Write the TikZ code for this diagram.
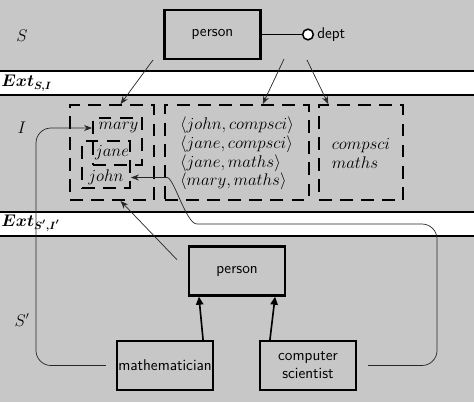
\documentclass[tikz,border=0pt]{standalone}
\usepackage{bm}
\usetikzlibrary{fit,arrows.meta}

\begin{document}
\begin{tikzpicture}[
	x=0.3mm, y=-0.3mm,
	% Define the styles for the boxes, sets and links
	entity/.style={draw, line width=2pt, minimum width=28.8mm, minimum height=14.7mm,
		inner sep=0.5pt, align=center, font=\fontsize{13.3}{15.5}\selectfont\sffamily},
	setbox/.style={draw, line width=1.6pt, dash pattern=on 11pt off 7pt, inner sep=0pt},
	elem/.style={inner sep=0pt, align=left, font=\fontsize{13.3}{16}\selectfont},
	lbl/.style={inner sep=1pt, font=\fontsize{13.3}{16}\selectfont},
	attr/.style={circle, draw, line width=1.3pt, fill=white, minimum size=3.2mm, inner sep=0pt},
	link/.style={-{Stealth[length=2.4mm, width=1.8mm]}, semithick, black!85},
	isa/.style={-{Triangle[length=2.4mm, width=2.2mm]}, line width=1.4pt},
	band/.style={fill=black!22},
	sep/.style={line width=1.1pt}
	]
	
	\useasboundingbox (0,0) rectangle (474,402);
	
	% --- BANDS ---
	\fill[band] (0,0) rectangle (474,71);
	\fill[band] (0,95) rectangle (474,212);
	\fill[band] (0,236) rectangle (474,402);
	\draw[sep] (0,71) -- (474,71);
	\draw[sep] (0,95) -- (474,95);
	\draw[sep] (0,212) -- (474,212);
	\draw[sep] (0,236) -- (474,236);
	
	% --- LABELS ---
	\node[lbl] (lblS) at (22,36) {$S$};
	\node[lbl, anchor=west] (lblExt) at (0,83) {$\bm{Ext_{S,I}}$};
	\node[lbl] (lblI) at (22,128) {$I$};
	\node[lbl, anchor=west] (lblExtb) at (0,223) {$\bm{Ext_{S',I'}}$};
	\node[lbl] (lblSb) at (22,320) {$S'$};
	
	% --- SCHEMA S ---
	\node[entity] (person) at (212.5,34.5) {person};
	\node[attr] (dept) at (308,34.5) {};
	\node[lbl, anchor=west, inner sep=2.5pt] (deptlbl) at (dept.east) {\sffamily dept};
	\draw[line width=1.2pt] (person) -- (dept);
	
	% --- INSTANCE I ---
	\node[setbox, fit={(70,105) (154,200)}] (ext) {};
	\node[setbox, fit={(165,105) (309,200)}] (pairs) {};
	\node[setbox, fit={(319,105) (403,200)}] (vals) {};
	\node[setbox, fit={(93,118) (142,165)}] (mathset) {};
	\node[setbox, fit={(82,141) (130,188)}] (csset) {};
	
	\node[elem] (mary) at (118.5,128) {$mary$};
	\node[elem] (jane) at (112,153) {$jane$};
	\node[elem] (john) at (106,177.5) {$john$};
	\node[elem] (pairlist) at (237,153.5) {$\langle john, compsci\rangle$\\
		$\langle jane, compsci\rangle$\\ $\langle jane, maths\rangle$\\ $\langle mary, maths\rangle$};
	\node[elem] (vallist) at (361,153.5) {$compsci$\\ $maths$};
	
	% --- EXTENTS OF S ---
	\coordinate (personsrc) at (153,60);
	\coordinate (edgesrc) at (284,59);
	\coordinate (deptsrc) at (307,60);
	\draw[link] (personsrc) -- (ext.80);
	\draw[link] (edgesrc) -- (pairs.62);
	\draw[link] (deptsrc) -- (vals.124);
	
	% --- SCHEMA S' ---
	\node[entity] (person2) at (237,271) {person};
	\node[entity] (math) at (165,365.5) {mathematician};
	\node[entity] (cs) at (308,365.5) {computer\\scientist};
	\draw[isa] (math.34) -- (person2.214);
	\draw[isa] (cs.146) -- (person2.326);
	
	% --- EXTENTS OF S' ---
	\draw[link, shorten <=4.7mm] (person2.west) -- (ext.280);
	\draw[link, rounded corners=4.5mm, shorten <=3mm]
		(math.west) -- (36,365.5) -- (36,128) -- (mathset.west |- mary);
	\draw[link, rounded corners=4.5mm, shorten <=3.3mm]
		(cs.east) -- (437,365.5) -- (437,224) -- (212,224)
		.. controls (186,224) and (174,177.5) .. (152,177.5) -- (csset.east |- john);
	
\end{tikzpicture}
\end{document}
